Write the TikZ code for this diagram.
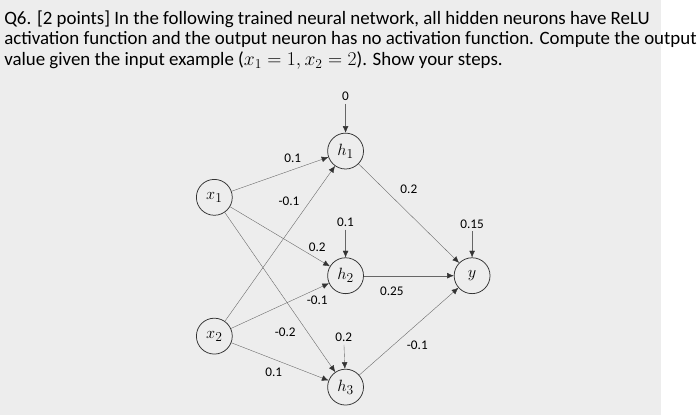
\documentclass[tikz,border=0pt]{standalone}
\usepackage{fontspec}
\setmainfont{Carlito}
\usetikzlibrary{arrows.meta}
\tikzset{
  neuron/.style={draw=black!80, circle, minimum size=38pt, inner sep=0pt, thick, font=\fontsize{19}{19}\selectfont},
  wire/.style={draw=black!60, -{Latex[length=7pt,width=6pt,black!80]}},
  wlabel/.style={font=\fontsize{14}{14}\selectfont},
  qline/.style={anchor=west, font=\fontsize{20}{20}\selectfont}
}

\begin{document}
\begin{tikzpicture}[x=1pt, y=-1pt]
            \fill[black!7] (0,0) rectangle (700,439);
            \node[qline] (q1) at (1,20) {Q6. [2 points] In the following trained neural network, all hidden neurons have ReLU};
            \node[qline] (q2) at (1,42) {activation function and the output neuron has no activation function. Compute the output};
            \node[qline] (q3) at (1,64) {value given the input example (\(x_1 = 1, x_2 = 2\)). Show your steps.};

            \node[neuron] (x1) at (227, 209) {\(x_1\)};
            \node[neuron] (x2) at (227, 356) {\(x_2\)};
            \node[neuron] (h1) at (366, 160) {\(h_1\)};
            \node[neuron] (h2) at (366, 292) {\(h_2\)};
            \node[neuron] (h3) at (366, 410) {\(h_3\)};
            \node[neuron] (y) at (500, 292) {\(y\)};

            \node[wlabel] (b1) at (366, 102) {0};
            \node[wlabel] (b2) at (366, 235) {0.1};
            \node[wlabel] (b3) at (364, 357) {0.2};
            \node[wlabel] (by) at (500, 237) {0.15};

            \draw[wire] (b1) -- (h1);
            \draw[wire] (b2) -- (h2);
            \draw[wire] (b3) -- (h3);
            \draw[wire] (by) -- (y);

            \draw[wire] (x1) -- (h1);
            \draw[wire] (x1) -- (h2);
            \draw[wire] (x1) -- (h3);
            \draw[wire] (x2) -- (h1);
            \draw[wire] (x2) -- (h2);
            \draw[wire] (x2) -- (h3);
            \draw[wire] (h1) -- (y);
            \draw[wire] (h2) -- (y);
            \draw[wire] (h3) -- (y);

            \node[wlabel] (w11) at (310, 168) {0.1};
            \node[wlabel] (w21) at (306, 213) {-0.1};
            \node[wlabel] (w12) at (336, 262) {0.2};
            \node[wlabel] (w22) at (336, 318) {-0.1};
            \node[wlabel] (w13) at (302, 352) {-0.2};
            \node[wlabel] (w23) at (290, 394) {0.1};
            \node[wlabel] (v1) at (433, 200) {0.2};
            \node[wlabel] (v2) at (415, 308) {0.25};
            \node[wlabel] (v3) at (442, 366) {-0.1};
        \end{tikzpicture}
\end{document}
